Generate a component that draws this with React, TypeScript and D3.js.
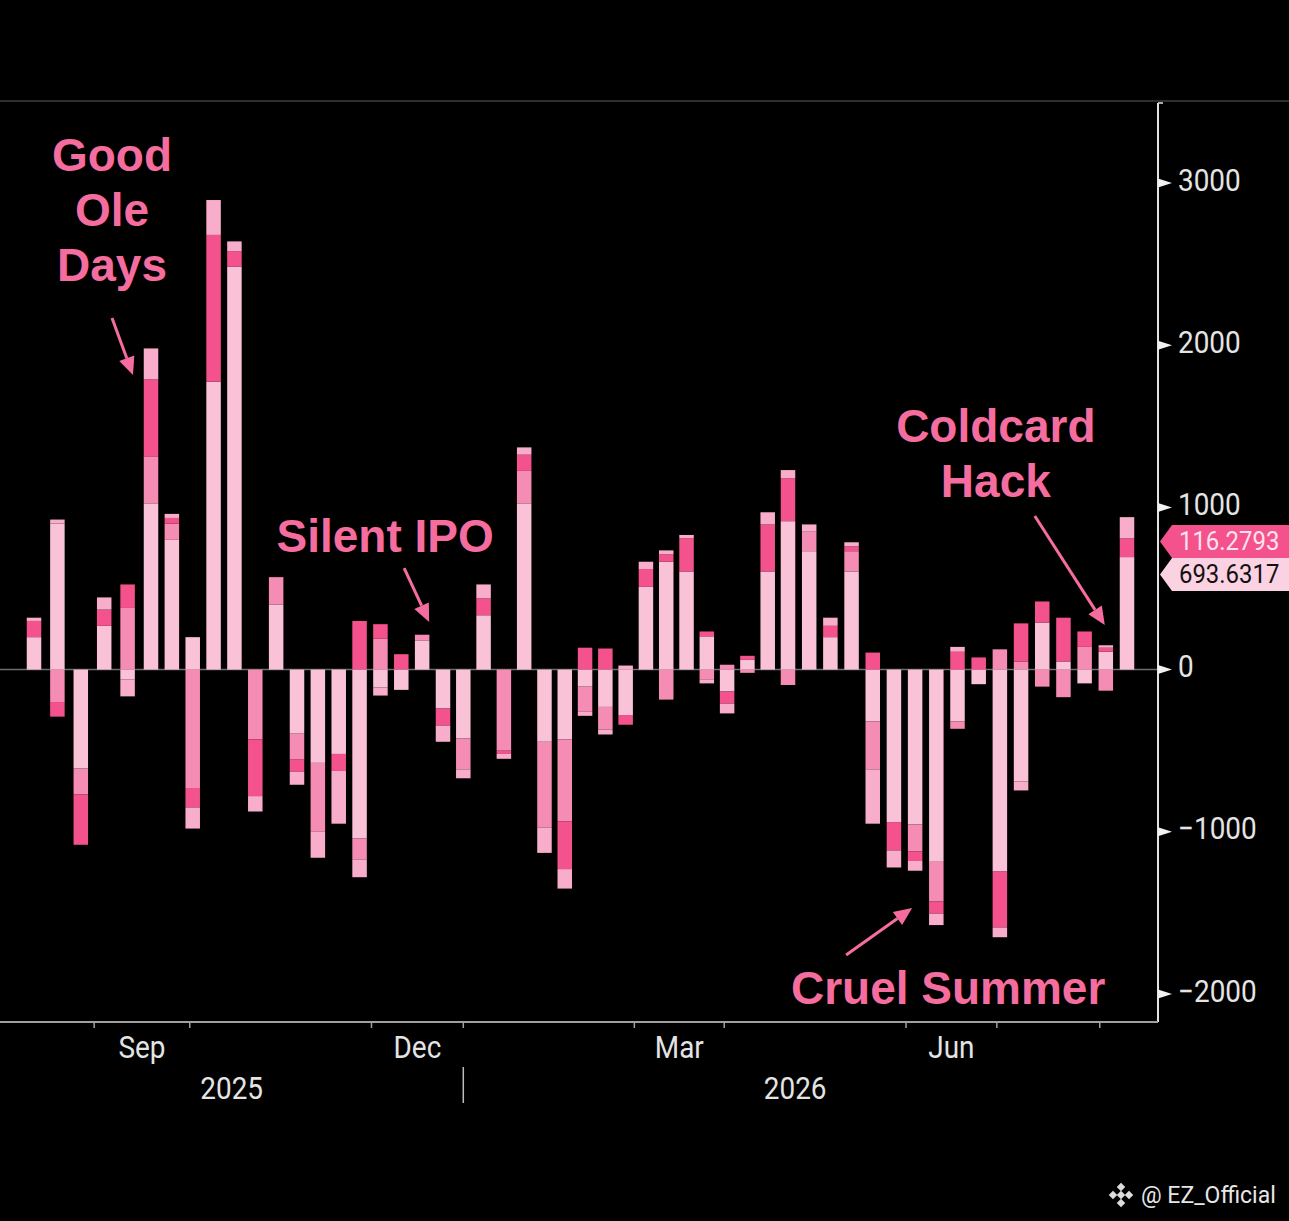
import * as React from "react";
import * as d3 from "d3";

const W = 1289;
const H = 1221;

// weekly buckets, one bar per week (Thursday stamps)
const weeks = d3.timeDay.range(new Date(2025, 7, 14), new Date(2026, 7, 14), 7);

// stacked series, innermost (next to zero) first
const lightFlow = [
  200, 900, -610, 270, -60, 1025, 800, 200, 1775, 2485, 0, 400, -395, -575,
  -520, -1040, -110, -125, 180, -240, -425, 335, 0, 1025, -445, -430, -105,
  -230, -280, 510, 665, 605, 205, -135, 60, 605, 915, 730, 200, 605, -320,
  -940, -955, -1185, -320, -90, -1245, -690, 290, 50, -85, 110, 693.6317,
];
const midFlow = [
  0, -200, -160, 0, 380, 290, 100, -730, 0, 0, -430, 170, -160, -425, 0, -130,
  190, 0, 35, 0, -190, 0, -500, 200, -530, -505, -155, -140, 0, 0, -185, 0,
  -60, 30, -20, 0, -95, 120, 0, 125, -295, 0, -165, -245, -45, 0, 125, 50,
  -105, -170, 140, -130, 0,
];
const hotFlow = [
  100, -90, -310, 100, 145, 475, 35, -120, 905, 95, -350, 0, -75, 0, -105, 300,
  90, 95, 0, -105, 0, 105, -20, 100, 0, -295, 135, 130, -60, 110, 45, 205, 30,
  -75, 25, 290, 265, 0, 70, 30, 105, -175, -60, -75, 110, 75, -345, 235, 130,
  270, 95, 25, 116.2793,
];
const capFlow = [
  20, 25, 0, 75, -105, 190, 25, -130, 215, 60, -95, 0, -80, -160, -325, -110,
  -50, 0, 0, -100, -55, 85, -30, 45, -155, -120, -25, -30, 25, 45, 25, 20, -25,
  -60, 0, 75, 50, 45, 50, 25, -335, -105, -60, -70, 30, 0, -60, -55, 0, 0, 0,
  15, 130,
];

const seriesKeys = ["light", "mid", "hot", "cap"];
const seriesColors: Record<string, string> = {
  light: "#f9c2d7",
  mid: "#f58cb3",
  hot: "#f4528c",
  cap: "#f8aecb",
};

const yTicks = [-2000, -1000, 0, 1000, 2000, 3000];
const axisTicks = [
  new Date(2025, 8, 1),
  new Date(2025, 9, 1),
  new Date(2025, 11, 1),
  new Date(2026, 0, 1),
  new Date(2026, 2, 1),
  new Date(2026, 3, 1),
  new Date(2026, 5, 1),
  new Date(2026, 6, 1),
  new Date(2026, 7, 4),
];
const monthLabels = [
  new Date(2025, 8, 1),
  new Date(2025, 11, 1),
  new Date(2026, 2, 1),
  new Date(2026, 5, 1),
];
const yearSplit = new Date(2026, 0, 1);

const notes = [
  { lines: ["Good", "Ole", "Days"], week: 5, value: 1816, dx: -18, tail: [-21, -57], text: [-21, -204] },
  { lines: ["Silent IPO"], week: 18, value: 293, dx: 7, tail: [-25, -54], text: [-44, -70] },
  { lines: ["Coldcard", "Hack"], week: 51, value: 275, dx: -1, tail: [-70, -109], text: [-109, -183] },
  { lines: ["Cruel Summer"], week: 42, value: -1470, dx: -3, tail: [-66, 47], text: [36, 96] },
];

const pink = "#f56d9f";
const axisFont = "Roboto, 'DejaVu Sans', sans-serif";

function Arrow({ x1, y1, x2, y2 }: { x1: number; y1: number; x2: number; y2: number }) {
  const ang = Math.atan2(y2 - y1, x2 - x1);
  const len = 18;
  const half = 8;
  const bx = x2 - len * Math.cos(ang);
  const by = y2 - len * Math.sin(ang);
  const px = -Math.sin(ang) * half;
  const py = Math.cos(ang) * half;
  return (
    <g>
      <line x1={x1} y1={y1} x2={bx} y2={by} stroke={pink} strokeWidth={3} />
      <polygon
        points={`${x2},${y2} ${bx + px},${by + py} ${bx - px},${by - py}`}
        fill={pink}
      />
    </g>
  );
}

export default function App() {
  const plotRight = 1158;
  const plotTop = 103;
  const plotBottom = 1022;

  const rows = weeks.map((date, i) => ({
    date,
    light: lightFlow[i],
    mid: midFlow[i],
    hot: hotFlow[i],
    cap: capFlow[i],
  }));

  const stacked = d3
    .stack<(typeof rows)[number]>()
    .keys(seriesKeys)
    .offset(d3.stackOffsetDiverging)(rows);

  // the source chart is not evenly spaced, so the time scale is piecewise
  const xScale = d3
    .scaleTime()
    .domain([
      new Date(2025, 7, 3),
      weeks[0],
      weeks[5],
      weeks[19],
      weeks[36],
      weeks[52],
      new Date(2026, 7, 23),
    ])
    .range([0, 34, 151, 443, 788, 1127, plotRight]);

  const yScale = d3.scaleLinear().domain([-2000, 3000]).range([994, 183]);
  const barW = 14.5;
  const fmt = d3.format("d");

  const last = rows[rows.length - 1];
  const hotTagY = Math.max(yScale(last.light + last.hot), yScale(1000) + 34);
  const lightTagY = Math.max(yScale(last.light), hotTagY + 33);

  const tag = (cy: number) =>
    `1160,${cy} 1172,${cy - 16.5} ${W},${cy - 16.5} ${W},${cy + 16.5} 1172,${cy + 16.5}`;

  const yearMid2025 = (xScale(xScale.domain()[0]) + xScale(yearSplit)) / 2;
  const yearMid2026 = (xScale(yearSplit) + xScale(weeks[weeks.length - 1])) / 2;

  return (
    <svg
      width={W}
      height={H}
      style={{ position: "absolute", left: 0, top: 0, display: "block" }}
    >
      <rect width={W} height={H} fill="#000" />
      <line x1={0} x2={W} y1={101} y2={101} stroke="#2e2e2e" strokeWidth={2} />

      {/* zero line */}
      <line
        x1={0}
        x2={plotRight}
        y1={yScale(0)}
        y2={yScale(0)}
        stroke="#6e6e6e"
        strokeWidth={1.5}
      />

      {/* bars */}
      {stacked.map((layer) => (
        <g key={layer.key} fill={seriesColors[layer.key]}>
          {layer.map((d, i) => {
            const y0 = yScale(d[0]);
            const y1 = yScale(d[1]);
            const h = Math.abs(y0 - y1);
            if (h < 0.01) return null;
            return (
              <rect
                key={i}
                x={xScale(rows[i].date) - barW / 2}
                y={Math.min(y0, y1)}
                width={barW}
                height={h}
              />
            );
          })}
        </g>
      ))}

      {/* y axis */}
      <line x1={plotRight} x2={plotRight} y1={plotTop} y2={plotBottom} stroke="#e2e2e2" strokeWidth={2} />
      <line x1={plotRight} x2={plotRight + 5} y1={plotTop} y2={plotTop} stroke="#e2e2e2" strokeWidth={1.5} />
      <g fontFamily={axisFont} fontSize={31} fill="#e4e4e4">
        {yTicks.map((t) => (
          <g key={t}>
            <polygon
              points={`${plotRight},${yScale(t) - 4.5} ${plotRight + 14},${yScale(t)} ${plotRight},${yScale(t) + 4.5}`}
              fill="#f2f2f2"
            />
            <text
              transform={`translate(${plotRight + 20},${yScale(t) - 3}) scale(0.9,1)`}
              dominantBaseline="central"
            >
              {fmt(t)}
            </text>
          </g>
        ))}
      </g>

      {/* x axis */}
      <line x1={0} x2={plotRight} y1={plotBottom} y2={plotBottom} stroke="#a0a0a0" strokeWidth={2} />
      {axisTicks.map((t, i) => (
        <line
          key={i}
          x1={xScale(t)}
          x2={xScale(t)}
          y1={plotBottom}
          y2={plotBottom + 6}
          stroke="#a0a0a0"
          strokeWidth={1.5}
        />
      ))}
      <g fontFamily={axisFont} fontSize={31} fill="#e4e4e4" textAnchor="middle">
        {monthLabels.map((m, i) => {
          const cx = (xScale(m) + xScale(d3.timeMonth.offset(m, 1))) / 2;
          return (
            <text key={i} transform={`translate(${cx},1058) scale(0.9,1)`}>
              {d3.timeFormat("%b")(m)}
            </text>
          );
        })}
        <text transform={`translate(${yearMid2025},1099) scale(0.9,1)`}>2025</text>
        <text transform={`translate(${yearMid2026},1099) scale(0.9,1)`}>2026</text>
      </g>
      <line
        x1={xScale(yearSplit)}
        x2={xScale(yearSplit)}
        y1={1067}
        y2={1103}
        stroke="#bdbdbd"
        strokeWidth={1.5}
      />

      {/* last value tags */}
      <polygon points={tag(hotTagY)} fill={seriesColors.hot} />
      <text
        transform={`translate(1179,${hotTagY}) scale(0.92,1)`}
        dominantBaseline="central"
        fontFamily={axisFont}
        fontSize={26}
        fill="#fde3ec"
      >
        {last.hot.toFixed(4)}
      </text>
      <polygon points={tag(lightTagY)} fill="#fbd2e2" />
      <text
        transform={`translate(1179,${lightTagY}) scale(0.92,1)`}
        dominantBaseline="central"
        fontFamily={axisFont}
        fontSize={26}
        fill="#111"
      >
        {last.light.toFixed(4)}
      </text>

      {/* annotations */}
      {notes.map((n, i) => {
        const tx = xScale(rows[n.week].date) + n.dx;
        const ty = yScale(n.value);
        return (
          <g key={i}>
            <Arrow x1={tx + n.tail[0]} y1={ty + n.tail[1]} x2={tx} y2={ty} />
            <text
              x={tx + n.text[0]}
              y={ty + n.text[1]}
              textAnchor="middle"
              fontFamily="'Liberation Sans', Arial, sans-serif"
              fontWeight="bold"
              fontSize={46}
              fill={pink}
            >
              {n.lines.map((line, j) => (
                <tspan key={j} x={tx + n.text[0]} dy={j === 0 ? 0 : 55}>
                  {line}
                </tspan>
              ))}
            </text>
          </g>
        );
      })}

      {/* watermark */}
      <g transform="translate(1121,1195)" fill="#dcdcdc">
        {[
          [0, -8],
          [8, 0],
          [0, 8],
          [-8, 0],
          [0, 0],
        ].map(([dx, dy], i) => (
          <rect key={i} x={dx - 3} y={dy - 3} width={6} height={6} transform={`rotate(45 ${dx} ${dy})`} />
        ))}
      </g>
      <text x={1141} y={1203} fontFamily={axisFont} fontSize={23} fill="#e6e6e6">
        @ EZ_Official
      </text>
    </svg>
  );
}
